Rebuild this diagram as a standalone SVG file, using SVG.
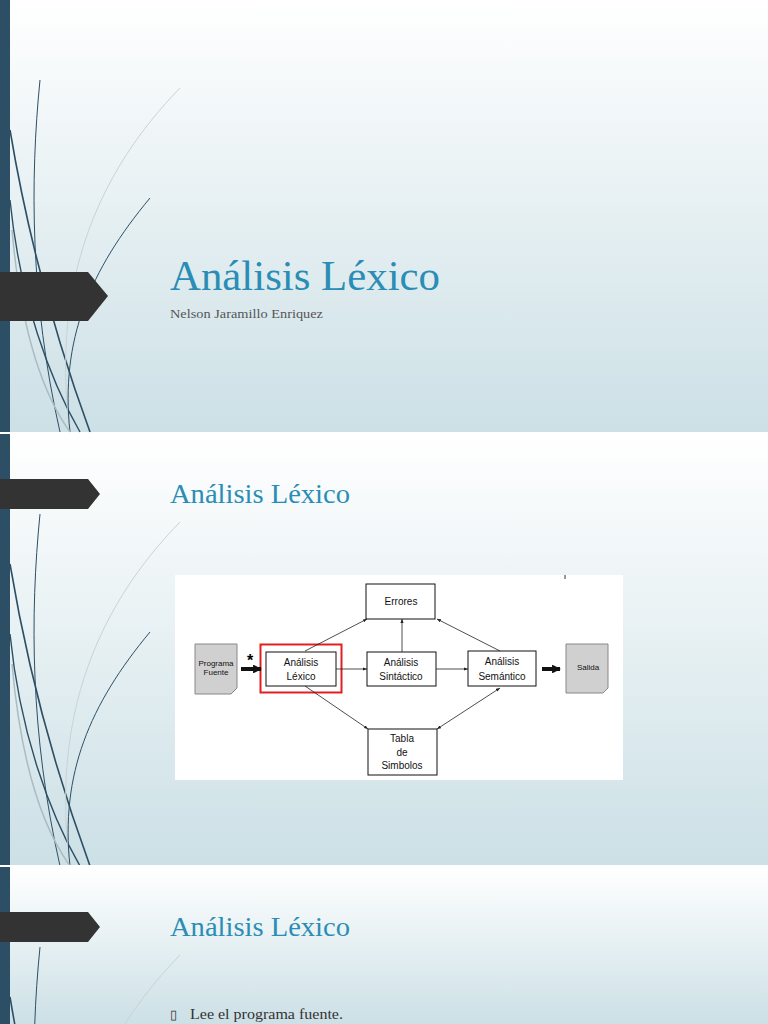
<svg xmlns="http://www.w3.org/2000/svg" width="768" height="1024" viewBox="0 0 768 1024">
<defs>
<linearGradient id="bg" x1="0" y1="0" x2="0" y2="1"><stop offset="0" stop-color="#ffffff"/><stop offset="1" stop-color="#cce0e6"/></linearGradient>
<marker id="a" viewBox="0 0 10 10" refX="10" refY="5" markerWidth="5" markerHeight="5" orient="auto-start-reverse"><path d="M0,1 L10,5 L0,9 z" fill="#222"/></marker>
<marker id="t" viewBox="0 0 10 10" refX="9" refY="5" markerWidth="2.2" markerHeight="2.2" orient="auto"><path d="M0,0 L10,5 L0,10 z" fill="#111"/></marker>
<g id="deco">
<rect x="0" y="0" width="10" height="432" fill="#2d4f65"/>
<path d="M40,80 C30,180 30,300 60,432" fill="none" stroke="#2d4f65" stroke-width="1"/>
<path d="M10,130 C30,250 60,350 90,432" fill="none" stroke="#2d4f65" stroke-width="1.6"/>
<path d="M10,200 C20,300 50,380 80,432" fill="none" stroke="#2d4f65" stroke-width="1.4"/>
<path d="M180,88 C100,170 50,280 70,432" fill="none" stroke="#c9d3d6" stroke-width="1"/>
<path d="M150,198 C90,270 60,340 70,432" fill="none" stroke="#2d4f65" stroke-width="1"/>
<path d="M12,230 C20,320 40,390 70,432" fill="none" stroke="#a9bcc2" stroke-width="1.5"/>
</g>
</defs>
<style>
.s{font-family:"Liberation Serif",serif}
.h{fill:#2a8db5}
.b{fill:#fff;stroke:#111;stroke-width:1}
.d{fill:#d0d0d0;stroke:#888;stroke-width:1}
.l{font-family:"Liberation Sans",sans-serif;font-size:10px;fill:#111;text-anchor:middle}
.c{stroke:#222;stroke-width:0.8;fill:none;marker-end:url(#a)}
</style>
<rect width="768" height="1024" fill="#fff"/>
<rect x="0" y="0" width="768" height="432" fill="url(#bg)"/>
<rect x="0" y="434" width="768" height="431" fill="url(#bg)"/>
<rect x="0" y="867" width="768" height="157" fill="url(#bg)"/>
<use href="#deco"/>
<path d="M0,272 L88,272 L108,296 L88,321 L0,321 z" fill="#333"/>
<svg x="0" y="434" width="768" height="431" overflow="hidden"><use href="#deco"/></svg>
<svg x="0" y="867" width="768" height="157" overflow="hidden"><use href="#deco"/></svg>
<rect x="0" y="479" width="80" height="30" fill="#333"/><path d="M80,479 L88,479 L100,494 L88,509 L80,509z" fill="#333"/>
<rect x="0" y="912" width="80" height="30" fill="#333"/><path d="M80,912 L88,912 L100,927 L88,942 L80,942z" fill="#333"/>
<text class="s h" x="170" y="290" font-size="42" textLength="270" lengthAdjust="spacingAndGlyphs">Análisis Léxico</text>
<text class="s" x="170" y="318" font-size="13" fill="#555" textLength="153" lengthAdjust="spacingAndGlyphs">Nelson Jaramillo Enriquez</text>
<text class="s h" x="170" y="503" font-size="27" textLength="180" lengthAdjust="spacingAndGlyphs">Análisis Léxico</text>
<text class="s h" x="170" y="936" font-size="27" textLength="180" lengthAdjust="spacingAndGlyphs">Análisis Léxico</text>
<text class="s" x="170" y="1019" font-size="13" fill="#333">▯</text>
<text class="s" x="190" y="1019" font-size="14" fill="#333" textLength="153" lengthAdjust="spacingAndGlyphs">Lee el programa fuente.</text>
<rect x="175" y="575" width="448" height="205" fill="#fff"/>
<line x1="565" y1="575" x2="565" y2="579" stroke="#333"/>
<g id="n-fuente"><path class="d" d="M195,644 H237 V688 L231,694 H195 z"/><text class="l" x="216" y="666" style="font-size:8px" fill="#333">Programa</text><text class="l" x="216" y="675" style="font-size:8px">Fuente</text></g>
<g id="n-lexico"><rect x="260.5" y="644.5" width="81" height="48" fill="none" stroke="#e02020" stroke-width="2"/><rect class="b" x="266" y="652" width="70" height="34"/><text class="l" x="301" y="666">Análisis</text><text class="l" x="301" y="680">Léxico</text></g>
<g id="n-sint"><rect class="b" x="367" y="652" width="69" height="34"/><text class="l" x="401" y="666">Análisis</text><text class="l" x="401" y="680">Sintáctico</text></g>
<g id="n-sem"><rect class="b" x="468" y="651" width="68" height="35"/><text class="l" x="502" y="665">Análisis</text><text class="l" x="502" y="680">Semántico</text></g>
<g id="n-salida"><path class="d" d="M566,644 H608 V688 L603,693 H566 z"/><text class="l" x="588" y="670" style="font-size:8px">Salida</text></g>
<g id="n-err"><rect class="b" x="366" y="584" width="69" height="35"/><text class="l" x="401" y="605">Errores</text></g>
<g id="n-tabla"><rect class="b" x="368" y="729" width="69" height="46"/><text class="l" x="402" y="742">Tabla</text><text class="l" x="402" y="756">de</text><text class="l" x="402" y="769">Simbolos</text></g>
<g id="connectors">
<line x1="241" y1="669" x2="261" y2="669" stroke="#111" stroke-width="4" marker-end="url(#t)"/>
<text x="250" y="666" font-family="Liberation Sans,sans-serif" font-size="16" font-weight="bold" text-anchor="middle">*</text>
<line class="c" x1="336" y1="669" x2="367" y2="669"/>
<line class="c" x1="436" y1="669" x2="468" y2="669"/>
<line x1="542" y1="669" x2="560" y2="669" stroke="#111" stroke-width="4" marker-end="url(#t)"/>
<line class="c" x1="305" y1="651" x2="367" y2="619"/>
<line class="c" x1="402" y1="652" x2="402" y2="619"/>
<line class="c" x1="500" y1="651" x2="437" y2="619"/>
<line class="c" x1="305" y1="686" x2="368" y2="729"/>
<line class="c" x1="437" y1="729" x2="500" y2="688" marker-start="url(#a)"/>
</g>
</svg>
